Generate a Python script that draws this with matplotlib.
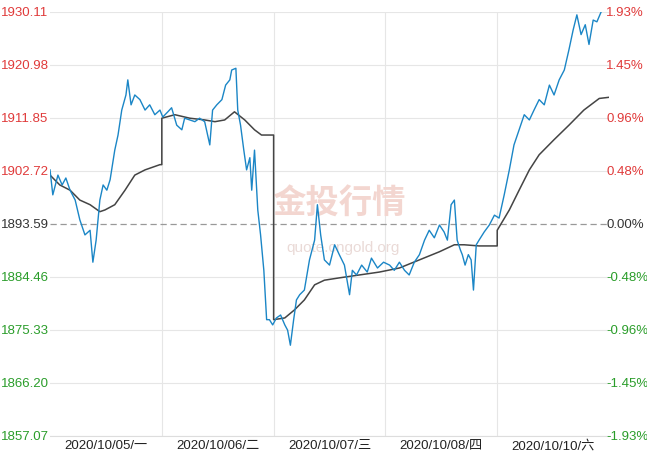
import matplotlib.pyplot as plt

plt.rcParams['font.family'] = ['Liberation Sans', 'Noto Sans CJK SC', 'DejaVu Sans']

# 金价走势（小时, 价格）
hours = [0, 0.6, 1.7, 2.6, 3.4, 4.3, 5.4, 6.4, 7.5, 8.6, 9.2, 9.9, 10.7, 11.4, 12.2, 12.9,
         13.9, 14.6, 15.4, 16.3, 16.7, 17.4, 18.2, 19.3, 20.4, 21.4, 22.5, 23.6, 24.2, 25.3,
         26.1, 27.2, 28.3, 28.9, 30.0, 31.1, 32.1, 33.2, 34.3, 34.9, 35.8, 36.9, 37.7, 38.6,
         39.0, 39.9, 40.3, 40.9, 41.6, 42.2, 42.9, 43.3, 43.9, 44.6, 45.2, 45.9, 46.5, 47.1,
         47.8, 48.6, 49.5, 50.4, 51.0, 51.6, 52.3, 52.9, 53.6, 54.6, 55.7, 56.8, 57.4, 58.1,
         58.9, 60.0, 61.1, 62.1, 63.2, 64.3, 64.9, 65.8, 66.9, 68.1, 69.0, 70.3, 71.6, 72.9,
         73.9, 75.0, 76.1, 77.1, 78.2, 79.3, 80.4, 81.4, 82.5, 83.6, 84.6, 85.3, 86.1, 86.8,
         87.4, 88.1, 88.5, 89.1, 89.8, 90.4, 90.9, 91.5, 92.1, 93.2, 94.3, 95.4, 96.4, 97.5,
         98.6, 99.6, 100.7, 101.8, 102.9, 103.9, 105.0, 106.1, 107.2, 108.2, 109.3, 110.4,
         111.4, 112.3, 113.1, 114.0, 114.9, 115.7, 116.6, 117.4, 118.3, 119.1]
price = [1902.9, 1898.6, 1902.0, 1900.3, 1901.5, 1899.4, 1897.7, 1894.3, 1891.7, 1892.5,
         1887.0, 1890.8, 1897.7, 1900.3, 1899.4, 1901.2, 1906.3, 1908.9, 1913.2, 1915.8,
         1918.4, 1914.1, 1915.8, 1915.0, 1913.2, 1914.1, 1912.4, 1913.2, 1912.0, 1912.9,
         1913.6, 1910.6, 1909.8, 1911.8, 1911.5, 1911.2, 1911.8, 1911.2, 1907.2, 1913.2,
         1914.1, 1915.0, 1917.5, 1918.4, 1920.1, 1920.4, 1913.2, 1910.6, 1906.3, 1902.9,
         1905.0, 1899.4, 1906.3, 1896.0, 1891.7, 1885.6, 1877.1, 1877.1, 1876.2, 1877.4,
         1877.9, 1876.2, 1875.3, 1872.7, 1877.1, 1880.5, 1881.4, 1882.2, 1887.4, 1890.8,
         1896.9, 1891.7, 1887.4, 1886.5, 1890.0, 1888.3, 1886.5, 1881.4, 1885.6, 1884.8,
         1886.5, 1885.3, 1887.7, 1886.0, 1887.0, 1886.5, 1885.6, 1887.0, 1885.6, 1884.8,
         1887.0, 1888.3, 1890.8, 1892.5, 1891.2, 1893.4, 1892.2, 1890.8, 1896.9, 1897.7,
         1890.8, 1889.1, 1888.3, 1886.5, 1888.3, 1887.4, 1882.2, 1890.0, 1890.8, 1892.2,
         1893.4, 1895.1, 1894.6, 1898.6, 1902.9, 1907.2, 1909.8, 1912.4, 1911.5, 1913.2,
         1915.0, 1914.1, 1917.5, 1915.8, 1918.4, 1920.1, 1923.6, 1927.0, 1929.6, 1926.2,
         1927.9, 1924.5, 1928.7, 1928.4, 1930.1, 1930.8]

# 均线
ma_hours = [0, 2.1, 4.3, 6.4, 8.6, 10.7, 11.8, 13.9, 16.1, 18.2, 20.4, 23.6, 24.0, 24.0,
            26.8, 30.0, 33.2, 35.4, 37.5, 39.6, 41.8, 43.9, 45.4, 48.0, 48.0, 50.4, 52.5,
            54.6, 56.8, 58.9, 62.1, 66.4, 70.7, 75.0, 79.3, 83.6, 86.8, 88.9, 92.1, 96.0,
            96.0, 98.6, 100.7, 102.9, 105.0, 108.2, 111.4, 114.6, 117.9, 120.0]
ma_price = [1902.0, 1900.3, 1899.4, 1897.7, 1896.9, 1895.7, 1896.0, 1896.9, 1899.4,
            1902.0, 1902.9, 1903.8, 1903.8, 1911.8, 1912.4, 1911.8, 1911.5, 1911.2, 1911.5,
            1912.9, 1911.5, 1909.8, 1908.9, 1908.9, 1877.1, 1877.4, 1878.8, 1880.5, 1883.1,
            1883.9, 1884.3, 1884.8, 1885.3, 1886.0, 1887.4, 1888.8, 1890.0, 1890.0, 1889.8,
            1889.8, 1892.5, 1896.0, 1899.4, 1902.9, 1905.5, 1908.1, 1910.6, 1913.2, 1915.2,
            1915.4]

yticks = [1857.07, 1866.20, 1875.33, 1884.46, 1893.59, 1902.72, 1911.85, 1920.98, 1930.11]
pct_labels = ['-1.93%', '-1.45%', '-0.96%', '-0.48%', '0.00%', '0.48%', '0.96%', '1.45%', '1.93%']
day_labels = ['2020/10/05/一', '2020/10/06/二', '2020/10/07/三', '2020/10/08/四', '2020/10/10/六']
base = 1893.59

red, green, grey = '#e03a3a', '#2a9d2a', '#333333'
colors = [green] * 4 + [grey] + [red] * 4

fig = plt.figure(figsize=(6.47, 4.57), dpi=100)
ax = fig.add_axes([0.0773, 0.046, 0.864, 0.928])
ax.set_xlim(0, 120)
ax.set_ylim(yticks[0], yticks[-1])

for y in yticks:
    if y == base:
        ax.axhline(y, color='#999999', ls=(0, (5, 3)), lw=0.9, zorder=1)
    else:
        ax.axhline(y, color='#e6e6e6', lw=0.8, zorder=0)
for x in [24, 48, 72, 96]:
    ax.axvline(x, color='#e6e6e6', lw=0.8, zorder=0)

# 水印
ax.text(62, 1897, '金投行情', fontsize=24, color='#f3d6d0',
        ha='center', va='center', zorder=0, fontweight='bold', family='Noto Sans CJK SC')
ax.text(63, 1889.5, 'quote.cngold.org', fontsize=11, color='#eadad7',
        ha='center', va='center', zorder=0)

ax.plot(ma_hours, ma_price, color='#444444', lw=1.1, zorder=2)
ax.plot(hours, price, color='#1b86c6', lw=1.0, zorder=3)

for s in ax.spines.values():
    s.set_visible(False)
ax.spines['bottom'].set_visible(True)
ax.spines['bottom'].set_color('#dddddd')

ax.set_yticks(yticks)
ax.set_yticklabels([f'{v:.2f}' for v in yticks])
for lab, c in zip(ax.get_yticklabels(), colors):
    lab.set_color(c)
ax.tick_params(axis='y', length=0, labelsize=9.5, pad=1)

ax2 = ax.twinx()
ax2.set_ylim(ax.get_ylim())
ax2.set_yticks(yticks)
ax2.set_yticklabels(pct_labels)
for lab, c in zip(ax2.get_yticklabels(), colors):
    lab.set_color(c)
ax2.tick_params(axis='y', length=0, labelsize=9.5, pad=-2)
for s in ax2.spines.values():
    s.set_visible(False)

ax.set_xticks([12, 36, 60, 84, 108])
ax.set_xticklabels(day_labels)
ax.tick_params(axis='x', length=0, labelsize=9.5, pad=3, colors='#222222')

plt.savefig('out.png', dpi=100)
